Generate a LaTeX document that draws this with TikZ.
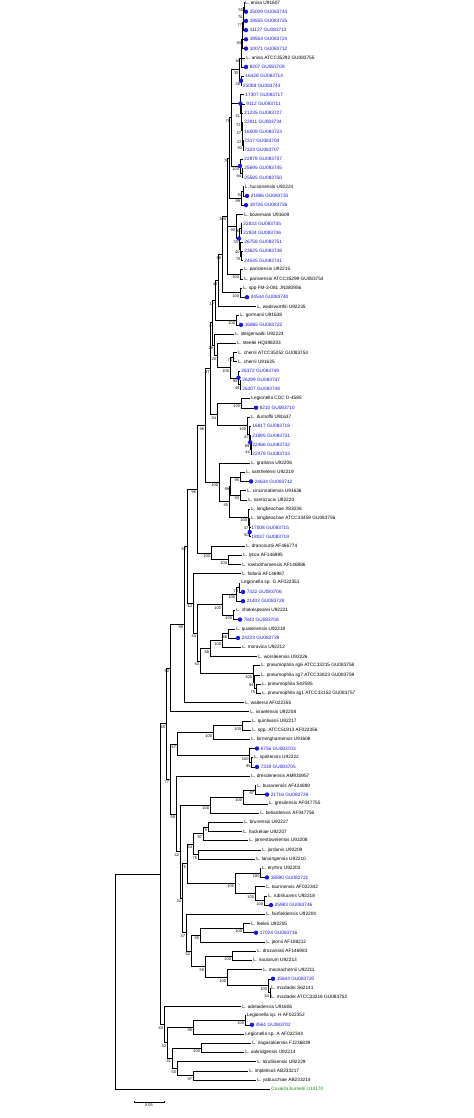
\documentclass[tikz,border=0pt]{standalone}
\usepackage{fontspec}
\setmainfont{Liberation Sans}
\usetikzlibrary{positioning}
\definecolor{isoblue}{RGB}{25,25,225}
\definecolor{coxgreen}{RGB}{30,140,30}
\newcommand\leaffont{\fontsize{4.75}{5}\selectfont}
\newcommand\bsfont{\fontsize{3.9}{4}\selectfont}
\tikzset{
  br/.style={line width=0.45pt},
  leaf/.style={anchor=west, inner sep=0.8pt, font=\leaffont},
  iso/.style={leaf, text=isoblue},
  isodot/.style={circle, fill=isoblue, inner sep=0pt, minimum size=4.4pt},
  bs/.style={anchor=north east, inner sep=0pt, font=\bsfont, xshift=-0.8pt, yshift=-1.8pt},
}
\begin{document}
\begin{tikzpicture}[x=1pt, y=-9.21pt]
  \useasboundingbox (0,0.7286) rectangle (474,122.12);

  % internal nodes (x = branch length in px, y = leaf index)
  % L. anisa group
  \coordinate (g1) at (244,1.5);     \coordinate (g2) at (243.5,2.25);
  \coordinate (g3) at (243,3.125);   \coordinate (g4) at (242.5,4.06);
  \coordinate (g5) at (242,5.03);    \coordinate (g6) at (241.5,6.02);
  \coordinate (g7) at (241,7.01);    \coordinate (g8) at (241,9.5);
  \coordinate (g9) at (239.5,8.26);
  \coordinate (h6) at (243,16.5);    \coordinate (h5) at (242.5,15.75);
  \coordinate (h4) at (242,14.875);  \coordinate (h3) at (241.5,13.94);
  \coordinate (h2) at (241,12.97);   \coordinate (h1) at (240.5,11.98);
  \coordinate (s1) at (242,19.5);    \coordinate (s2) at (240,18.75);
  \coordinate (n79) at (231,13.5);
  \coordinate (t1) at (243,21.5);    \coordinate (t2) at (241,22.25);
  \coordinate (n75) at (229.5,17.88);
  \coordinate (u1) at (241.5,25.5);  \coordinate (u2) at (241.5,28.5);
  \coordinate (u3) at (240.5,27.75); \coordinate (u4) at (239,26.63);
  \coordinate (u5) at (236,25.31);
  \coordinate (paris) at (240,30.5); \coordinate (n3233) at (240,32.5);
  \coordinate (v1) at (227,24.19);   \coordinate (n98) at (222,28.34);
  \coordinate (n42) at (218.5,31.17);
  \coordinate (gorm) at (236,35.5);  \coordinate (n17) at (215,33.34);
  \coordinate (cher) at (233,39.5);  \coordinate (x1) at (240.5,42.5);
  \coordinate (x2) at (238.5,41.75); \coordinate (x3) at (230,40.63);
  \coordinate (n20) at (217,39.31);  \coordinate (n29) at (214,38.16);
  \coordinate (n9) at (212.5,35.75);
  % L. dumoffii group
  \coordinate (cdc) at (241,44.5);   \coordinate (d1) at (250.8,49.5);
  \coordinate (d2) at (250.2,48.75); \coordinate (d3) at (249.5,47.88);
  \coordinate (d4) at (247,46.94);   \coordinate (n34) at (217,45.72);
  \coordinate (n97) at (210.5,40.74);
  % L. longbeachae group
  \coordinate (f1) at (240,52.5);    \coordinate (f2) at (240,54.5);
  \coordinate (f3) at (230,53.5);    \coordinate (e1) at (249.7,58.5);
  \coordinate (e2) at (249.2,57.75); \coordinate (e3) at (248,56.88);
  \coordinate (f4) at (229,55.19);   \coordinate (f5) at (219,53.09);
  \coordinate (n96a) at (205,46.92);
  \coordinate (lyt) at (228,61.5);   \coordinate (q2d) at (211,60.75);
  \coordinate (n96b) at (197,53.83);
  % L. pneumophila group
  \coordinate (k1) at (239,64.5);    \coordinate (k2) at (236,65.25);
  \coordinate (k3) at (233,67.5);    \coordinate (k4) at (222,66.38);
  \coordinate (qa1) at (228,69.5);   \coordinate (qa2) at (222,70.25);
  \coordinate (qa3) at (210,71.13);
  \coordinate (p1) at (256,75.5);    \coordinate (p2) at (254.5,74.75);
  \coordinate (p3) at (253,73.88);
  \coordinate (n53) at (200,72.5);   \coordinate (n44) at (197,69.44);
  \coordinate (n62b) at (193,66.22); \coordinate (n62a) at (187,60.03);
  \coordinate (n99) at (184,68.51);  \coordinate (n90) at (170,73.26);
  % L. micdadei side
  \coordinate (q1) at (242,79.5);    \coordinate (q2) at (213,80.25);
  \coordinate (r1) at (251.5,83.5);  \coordinate (r2) at (249.5,82.75);
  \coordinate (n67) at (177,81.5);
  \coordinate (b1) at (255,86.5);    \coordinate (b2) at (243,87.25);
  \coordinate (b3) at (210,88.13);
  \coordinate (c1) at (208,90.5);    \coordinate (c2) at (203,91.25);
  \coordinate (c3) at (198,93.5);    \coordinate (c4) at (193,92.38);
  \coordinate (ea) at (260.5,95.5);  \coordinate (eb) at (264,98.5);
  \coordinate (ec) at (255,97.75);   \coordinate (ed) at (235,96.63);
  \coordinate (m) at (187,94.5);
  \coordinate (o1) at (243,101.5);   \coordinate (o2) at (200,102.25);
  \coordinate (o3) at (232,104.5);   \coordinate (o4) at (270,108.5);
  \coordinate (o5) at (268,107.75);  \coordinate (o6) at (227,106.88);
  \coordinate (o7) at (205,105.69);
  \coordinate (n52) at (191,103.97); \coordinate (n37) at (186,101.98);
  \coordinate (n34b) at (182,98.24); \coordinate (n42b) at (180,93.18);
  \coordinate (n59) at (176,89.09);  \coordinate (n77) at (170,85.3);
  \coordinate (n65) at (166,79.28);
  % bottom group
  \coordinate (sh) at (245,111.5);   \coordinate (s98) at (193,112.25);
  \coordinate (sn) at (201,114.5);   \coordinate (s97) at (193,117.5);
  \coordinate (s50) at (177,116.75); \coordinate (s41) at (172,115.63);
  \coordinate (s32) at (167,113.94); \coordinate (s43) at (164,111.97);
  \coordinate (ingr) at (160,95.63);
  \coordinate (root) at (115,107.3);

  % leaves
  \node[leaf] (l1) at (244.5,1) {L. anisa U91607};
  \node[isodot] (l2) at (246,2) {}; \node[iso, right=0.4pt of l2] (l2t) {25009 GU083744};
  \node[isodot] (l3) at (246,3) {}; \node[iso, right=0.4pt of l3] (l3t) {19555 GU083725};
  \node[isodot] (l4) at (246,4) {}; \node[iso, right=0.4pt of l4] (l4t) {11127 GU083713};
  \node[isodot] (l5) at (246,5) {}; \node[iso, right=0.4pt of l5] (l5t) {19554 GU083724};
  \node[isodot] (l6) at (246,6) {}; \node[iso, right=0.4pt of l6] (l6t) {10071 GU083712};
  \node[leaf] (l7) at (245.5,7) {L. anisa ATCC35292 GU083755};
  \node[isodot] (l8) at (246,8) {}; \node[iso, right=0.4pt of l8] (l8t) {8207 GU083709};
  \node[iso] (l9) at (244.5,9) {16428 GU083714};
  \node[iso] (l10) at (242,10) {25008 GU083743};
  \node[iso] (l11) at (244.5,11) {17307 GU083717};
  \node[iso] (l12) at (245.5,12) {9112 GU083711};
  \node[iso] (l13) at (243.5,13) {21235 GU083727};
  \node[iso] (l14) at (243.5,14) {22811 GU083734};
  \node[iso] (l15) at (243.5,15) {16009 GU083723};
  \node[iso] (l16) at (243.5,16) {7317 GU083704};
  \node[iso] (l17) at (243.5,17) {7323 GU083707};
  \node[iso] (l18) at (243.5,18) {22878 GU083737};
  \node[iso] (l19) at (243.5,19) {25695 GU083745};
  \node[iso] (l20) at (243.5,20) {25585 GU083750};
  \node[leaf] (l21) at (244,21) {L. tucsonensis U92224};
  \node[isodot] (l22) at (247,22) {}; \node[iso, right=0.4pt of l22] (l22t) {21886 GU083730};
  \node[isodot] (l23) at (246,23) {}; \node[iso, right=0.4pt of l23] (l23t) {19726 GU083726};
  \node[leaf] (l24) at (243.5,24) {L. bozemanii U91609};
  \node[iso] (l25) at (242.5,25) {22833 GU083735};
  \node[iso] (l26) at (242.5,26) {22834 GU083736};
  \node[iso] (l27) at (243.5,27) {26758 GU083751};
  \node[iso] (l28) at (243.5,28) {23625 GU083738};
  \node[iso] (l29) at (243.5,29) {24545 GU083741};
  \node[leaf] (l30) at (243.5,30) {L. parisiensis U92215};
  \node[leaf] (l31) at (243.5,31) {L. parisiensis ATCC35299 GU083754};
  \node[leaf] (l32) at (242.5,32) {L. spp FM-3-081 JN380956};
  \node[isodot] (l33) at (247,33) {}; \node[iso, right=0.4pt of l33] (l33t) {24544 GU083740};
  \node[leaf] (l34) at (256.5,34) {L. wadsworthii U92235};
  \node[leaf] (l35) at (239.5,35) {L. gormanii U91638};
  \node[isodot] (l36) at (241,36) {}; \node[iso, right=0.4pt of l36] (l36t) {16865 GU083722};
  \node[leaf] (l37) at (234.5,37) {L. steigerwaltii U92223};
  \node[leaf] (l38) at (236.5,38) {L. steelei HQ398203};
  \node[leaf] (l39) at (237.5,39) {L. cherrii ATCC35252 GU083753};
  \node[leaf] (l40) at (237.5,40) {L. cherrii U91635};
  \node[iso] (l41) at (240.5,41) {26372 GU083749};
  \node[iso] (l42) at (241.5,42) {26299 GU083747};
  \node[iso] (l43) at (241.5,43) {26207 GU083748};
  \node[leaf] (l44) at (250.5,44) {Legionella CDC D-4585};
  \node[isodot] (l45) at (256,45) {}; \node[iso, right=0.4pt of l45] (l45t) {8210 GU083710};
  \node[leaf] (l46) at (250.5,46) {L. dumoffii U91637};
  \node[iso] (l47) at (251.5,47) {16817 GU083718};
  \node[iso] (l48) at (251.5,48) {21895 GU083731};
  \node[iso] (l49) at (251.5,49) {22466 GU083732};
  \node[iso] (l50) at (251.5,50) {22478 GU083733};
  \node[leaf] (l51) at (250.5,51) {L. gratiana U92206};
  \node[leaf] (l52) at (245.5,52) {L. santhelensi U92219};
  \node[isodot] (l53) at (251,53) {}; \node[iso, right=0.4pt of l53] (l53t) {24634 GU083742};
  \node[leaf] (l54) at (246.5,54) {L. cincinnatiensis U91636};
  \node[leaf] (l55) at (247.5,55) {L. santicrucis U92220};
  \node[leaf] (l56) at (250.5,56) {L. longbeachae X83036};
  \node[leaf] (l57) at (250.5,57) {L. longbeachae ATCC33459 GU083756};
  \node[iso] (l58) at (250.5,58) {17008 GU083715};
  \node[iso] (l59) at (250.5,59) {18037 GU083719};
  \node[leaf] (l60) at (245.5,60) {L. drancourtii AF466774};
  \node[leaf] (l61) at (242.5,61) {L. lytica AF146995};
  \node[leaf] (l62) at (241.5,62) {L. rowbothamensis AF146986};
  \node[leaf] (l63) at (241.5,63) {L. fallonii AF146987};
  \node[leaf] (l64) at (240.5,64) {Legionella sp. G AF022351};
  \node[isodot] (l65) at (243,65) {}; \node[iso, right=0.4pt of l65] (l65t) {7322 GU083706};
  \node[isodot] (l66) at (243,66) {}; \node[iso, right=0.4pt of l66] (l66t) {21402 GU083728};
  \node[leaf] (l67) at (235.5,67) {L. shakespearei U92221};
  \node[isodot] (l68) at (240,68) {}; \node[iso, right=0.4pt of l68] (l68t) {7843 GU083708};
  \node[leaf] (l69) at (235.5,69) {L. quateirensis U92218};
  \node[isodot] (l70) at (238,70) {}; \node[iso, right=0.4pt of l70] (l70t) {24223 GU083739};
  \node[leaf] (l71) at (241.5,71) {L. moravica U92212};
  \node[leaf] (l72) at (257.5,72) {L. worsleiensis U92226};
  \node[leaf] (l73) at (260.5,73) {L. pneumophila sg6 ATCC33215 GU083758};
  \node[leaf] (l74) at (260.5,74) {L. pneumophila sg7 ATCC33823 GU083759};
  \node[leaf] (l75) at (261.5,75) {L. pneumophila S42595};
  \node[leaf] (l76) at (261.5,76) {L. pneumophila sg1 ATCC33152 GU083757};
  \node[leaf] (l77) at (244.5,77) {L. waltersii AF022355};
  \node[leaf] (l78) at (249.5,78) {L. israelensis U92208};
  \node[leaf] (l79) at (251.5,79) {L. quinlivanii U92217};
  \node[leaf] (l80) at (251.5,80) {L. spp. ATCC51913 AF022356};
  \node[leaf] (l81) at (250.5,81) {L. birminghamensis U91608};
  \node[isodot] (l82) at (257,82) {}; \node[iso, right=0.4pt of l82] (l82t) {6756 GU083703};
  \node[leaf] (l83) at (253.5,83) {L. spiritensis U92222};
  \node[isodot] (l84) at (257,84) {}; \node[iso, right=0.4pt of l84] (l84t) {7319 GU083705};
  \node[leaf] (l85) at (250.5,85) {L. dresdenensis AM930957};
  \node[leaf] (l86) at (256.5,86) {L. busanensis AF424889};
  \node[isodot] (l87) at (267,87) {}; \node[iso, right=0.4pt of l87] (l87t) {21716 GU083729};
  \node[leaf] (l88) at (268.5,88) {L. gresilensis AF047755};
  \node[leaf] (l89) at (259.5,89) {L. beliardensis AF047756};
  \node[leaf] (l90) at (243.5,90) {L. brunensis U92227};
  \node[leaf] (l91) at (242.5,91) {L. hackeliae U92207};
  \node[leaf] (l92) at (248.5,92) {L. jamestowniensis U92208};
  \node[leaf] (l93) at (261.5,93) {L. jordanis U92209};
  \node[leaf] (l94) at (255.5,94) {L. lansingensis U92210};
  \node[leaf] (l95) at (261.5,95) {L. erythra U92203};
  \node[isodot] (l96) at (267,96) {}; \node[iso, right=0.4pt of l96] (l96t) {18590 GU083721};
  \node[leaf] (l97) at (265.5,97) {L. taurinensis AF022342};
  \node[leaf] (l98) at (267.5,98) {L. rubrilucens U92218};
  \node[isodot] (l99) at (271,99) {}; \node[iso, right=0.4pt of l99] (l99t) {25983 GU083746};
  \node[leaf] (l100) at (265.5,100) {L. fairfieldensis U92204};
  \node[leaf] (l101) at (250.5,101) {L. feeleii U92205};
  \node[isodot] (l102) at (256,102) {}; \node[iso, right=0.4pt of l102] (l102t) {17024 GU083716};
  \node[leaf] (l103) at (265.5,103) {L. jeonii AF108212};
  \node[leaf] (l104) at (256.5,104) {L. drozanskii AF146983};
  \node[leaf] (l105) at (252.5,105) {L. nautarum U92213};
  \node[leaf] (l106) at (262.5,106) {L. maceachernii U92211};
  \node[isodot] (l107) at (273,107) {}; \node[iso, right=0.4pt of l107] (l107t) {15844 GU083720};
  \node[leaf] (l108) at (270.5,108) {L. micdadei S62141};
  \node[leaf] (l109) at (270.5,109) {L. micdadei ATCC33218 GU083752};
  \node[leaf] (l110) at (241.5,110) {L. adelaidensis U91606};
  \node[leaf] (l111) at (246,111) {Legionella sp. H AF022352};
  \node[isodot] (l112) at (252,112) {}; \node[iso, right=0.4pt of l112] (l112t) {4561 GU083702};
  \node[leaf] (l113) at (244.5,113) {Legionella sp. A AF022344};
  \node[leaf] (l114) at (251.5,114) {L. nagasakiensis FJ236839};
  \node[leaf] (l115) at (244.5,115) {L. oakridgensis U92214};
  \node[leaf] (l116) at (256.5,116) {L. londiniensis U92229};
  \node[leaf] (l117) at (248.5,117) {L. impletisoli AB233217};
  \node[leaf] (l118) at (256.5,118) {L. yabuuchiae AB233214};
  \node[leaf, text=coxgreen] (l119) at (270.5,119) {Coxiella burnetii U14170};

  % branches
  \draw[br] (g1) |- (l1) (g1) |- (l2) (g2) |- (g1) (g2) |- (l3) (g3) |- (g2) (g3) |- (l4)
    (g4) |- (g3) (g4) |- (l5) (g5) |- (g4) (g5) |- (l6) (g6) |- (g5) (g6) |- (l7)
    (g7) |- (g6) (g7) |- (l8) (g8) |- (l9) (g8) |- (l10) (g9) |- (g7) (g9) |- (g8);
  \draw[br] (h6) |- (l16) (h6) |- (l17) (h5) |- (l15) (h5) |- (h6) (h4) |- (l14) (h4) |- (h5)
    (h3) |- (l13) (h3) |- (h4) (h2) |- (l12) (h2) |- (h3) (h1) |- (l11) (h1) |- (h2)
    (s1) |- (l19) (s1) |- (l20) (s2) |- (l18) (s2) |- (s1)
    (n79) |- (g9) (n79) |- (h1) (n79) |- (s2);
  \draw[br] (t1) |- (l21) (t1) |- (l22) (t2) |- (t1) (t2) |- (l23) (n75) |- (n79) (n75) |- (t2)
    (u1) |- (l25) (u1) |- (l26) (u2) |- (l28) (u2) |- (l29) (u3) |- (l27) (u3) |- (u2)
    (u4) |- (u1) (u4) |- (u3) (u5) |- (l24) (u5) |- (u4);
  \draw[br] (paris) |- (l30) (paris) |- (l31) (n3233) |- (l32) (n3233) |- (l33)
    (v1) |- (n75) (v1) |- (u5) (v1) |- (paris) (n98) |- (v1) (n98) |- (n3233)
    (n42) |- (n98) (n42) |- (l34)
    (gorm) |- (l35) (gorm) |- (l36) (n17) |- (n42) (n17) |- (gorm)
    (cher) |- (l39) (cher) |- (l40) (x1) |- (l42) (x1) |- (l43) (x2) |- (l41) (x2) |- (x1)
    (x3) |- (cher) (x3) |- (x2) (n20) |- (l38) (n20) |- (x3) (n29) |- (l37) (n29) |- (n20)
    (n9) |- (n17) (n9) |- (n29);
  \draw[br] (cdc) |- (l44) (cdc) |- (l45) (d1) |- (l49) (d1) |- (l50) (d2) |- (l48) (d2) |- (d1)
    (d3) |- (l47) (d3) |- (d2) (d4) |- (l46) (d4) |- (d3) (n34) |- (cdc) (n34) |- (d4)
    (n97) |- (n9) (n97) |- (n34);
  \draw[br] (f1) |- (l52) (f1) |- (l53) (f2) |- (l54) (f2) |- (l55) (f3) |- (f1) (f3) |- (f2)
    (e1) |- (l58) (e1) |- (l59) (e2) |- (l57) (e2) |- (e1) (e3) |- (l56) (e3) |- (e2)
    (f4) |- (f3) (f4) |- (e3) (f5) |- (l51) (f5) |- (f4) (n96a) |- (n97) (n96a) |- (f5)
    (lyt) |- (l61) (lyt) |- (l62) (q2d) |- (l60) (q2d) |- (lyt)
    (n96b) |- (n96a) (n96b) |- (q2d);
  \draw[br] (k1) |- (l64) (k1) |- (l65) (k2) |- (k1) (k2) |- (l66) (k3) |- (l67) (k3) |- (l68)
    (k4) |- (k2) (k4) |- (k3) (qa1) |- (l69) (qa1) |- (l70) (qa2) |- (qa1) (qa2) |- (l71)
    (qa3) |- (qa2) (qa3) |- (l72) (p1) |- (l75) (p1) |- (l76) (p2) |- (l74) (p2) |- (p1)
    (p3) |- (l73) (p3) |- (p2) (n53) |- (qa3) (n53) |- (p3) (n44) |- (k4) (n44) |- (n53)
    (n62b) |- (l63) (n62b) |- (n44) (n62a) |- (n96b) (n62a) |- (n62b)
    (n99) |- (n62a) (n99) |- (l77) (n90) |- (n99) (n90) |- (l78);
  \draw[br] (q1) |- (l79) (q1) |- (l80) (q2) |- (q1) (q2) |- (l81)
    (r1) |- (l83) (r1) |- (l84) (r2) |- (l82) (r2) |- (r1) (n67) |- (q2) (n67) |- (r2)
    (b1) |- (l86) (b1) |- (l87) (b2) |- (b1) (b2) |- (l88) (b3) |- (b2) (b3) |- (l89)
    (c1) |- (l90) (c1) |- (l91) (c2) |- (c1) (c2) |- (l92) (c3) |- (l93) (c3) |- (l94)
    (c4) |- (c2) (c4) |- (c3)
    (ea) |- (l95) (ea) |- (l96) (eb) |- (l98) (eb) |- (l99) (ec) |- (l97) (ec) |- (eb)
    (ed) |- (ea) (ed) |- (ec) (m) |- (c4) (m) |- (ed);
  \draw[br] (o1) |- (l101) (o1) |- (l102) (o2) |- (o1) (o2) |- (l103) (o3) |- (l104) (o3) |- (l105)
    (o4) |- (l108) (o4) |- (l109) (o5) |- (l107) (o5) |- (o4) (o6) |- (l106) (o6) |- (o5)
    (o7) |- (o3) (o7) |- (o6) (n52) |- (o2) (n52) |- (o7) (n37) |- (l100) (n37) |- (n52)
    (n34b) |- (m) (n34b) |- (n37) (n42b) |- (b3) (n42b) |- (n34b)
    (n59) |- (l85) (n59) |- (n42b) (n77) |- (n67) (n77) |- (n59) (n65) |- (n90) (n65) |- (n77);
  \draw[br] (sh) |- (l111) (sh) |- (l112) (s98) |- (sh) (s98) |- (l113) (sn) |- (l114) (sn) |- (l115)
    (s97) |- (l117) (s97) |- (l118) (s50) |- (l116) (s50) |- (s97) (s41) |- (sn) (s41) |- (s50)
    (s32) |- (s98) (s32) |- (s41) (s43) |- (l110) (s43) |- (s32)
    (ingr) |- (n65) (ingr) |- (s43) (root) |- (ingr) (root) |- (l119);

  % dots on isolate clusters
  \foreach \p in {g8,h1,s2,u4,x2,d2,e1}
    \fill[isoblue] (\p) circle (2.2pt);

  % bootstrap values
  \foreach \p/\v in {g1/55,g2/76,g3/77,g5/93,g7/89,g8/38,g9/35,h6/93,h5/22,h4/47,h3/72,h2/51,
      s1/94,s2/100,n79/79,t1/97,t2/99,u1/98,u2/76,u3/40,u4/33,u5/90,v1/100,n75/75,
      paris/100,n3233/100,n98/98,n42/42,gorm/100,n17/17,cher/74,x1/49,x2/95,x3/100,
      n20/20,n29/29,n9/9,cdc/100,d1/44,d2/89,d3/47,d4/100,n34/34,n97/97,
      f1/95,f2/93,f3/99,e1/60,e2/47,e3/100,f4/45,f5/100,n96a/96,lyt/100,q2d/100,n96b/96,
      k1/79,k2/100,k3/100,k4/100,qa1/86,qa2/100,qa3/88,p1/75,p2/99,p3/100,n53/53,n44/44,
      n62b/62,n62a/62,n99/99,n90/90,q1/100,q2/100,r1/99,r2/100,n67/67,b1/97,b2/100,b3/100,
      c1/75,c2/97,c3/75,c4/64,ea/100,eb/100,ec/100,ed/100,m/75,o1/100,o2/95,o3/100,o4/54,
      o5/100,o6/100,o7/59,n52/52,n37/37,n34b/34,n42b/42,n59/59,n77/77,n65/65,
      sh/100,s98/98,sn/100,s97/97,s50/50,s41/41,s32/32,s43/43}
    \node[bs] (bs-\p) at (\p) {\v};

  % scale bar
  \coordinate (sb1) at (134,120.38);
  \coordinate (sb2) at (164,120.38);
  \coordinate (sbm) at (149,120.38);
  \draw[br] (sb1) -- (sb2);
  \draw[br] ([yshift=-1.3pt]sb1) -- ([yshift=1.3pt]sb1);
  \draw[br] ([yshift=-1.3pt]sb2) -- ([yshift=1.3pt]sb2);
  \node[font=\bsfont, below=1.5pt, inner sep=0pt] (sbl) at (sbm) {0.05};
\end{tikzpicture}
\end{document}
